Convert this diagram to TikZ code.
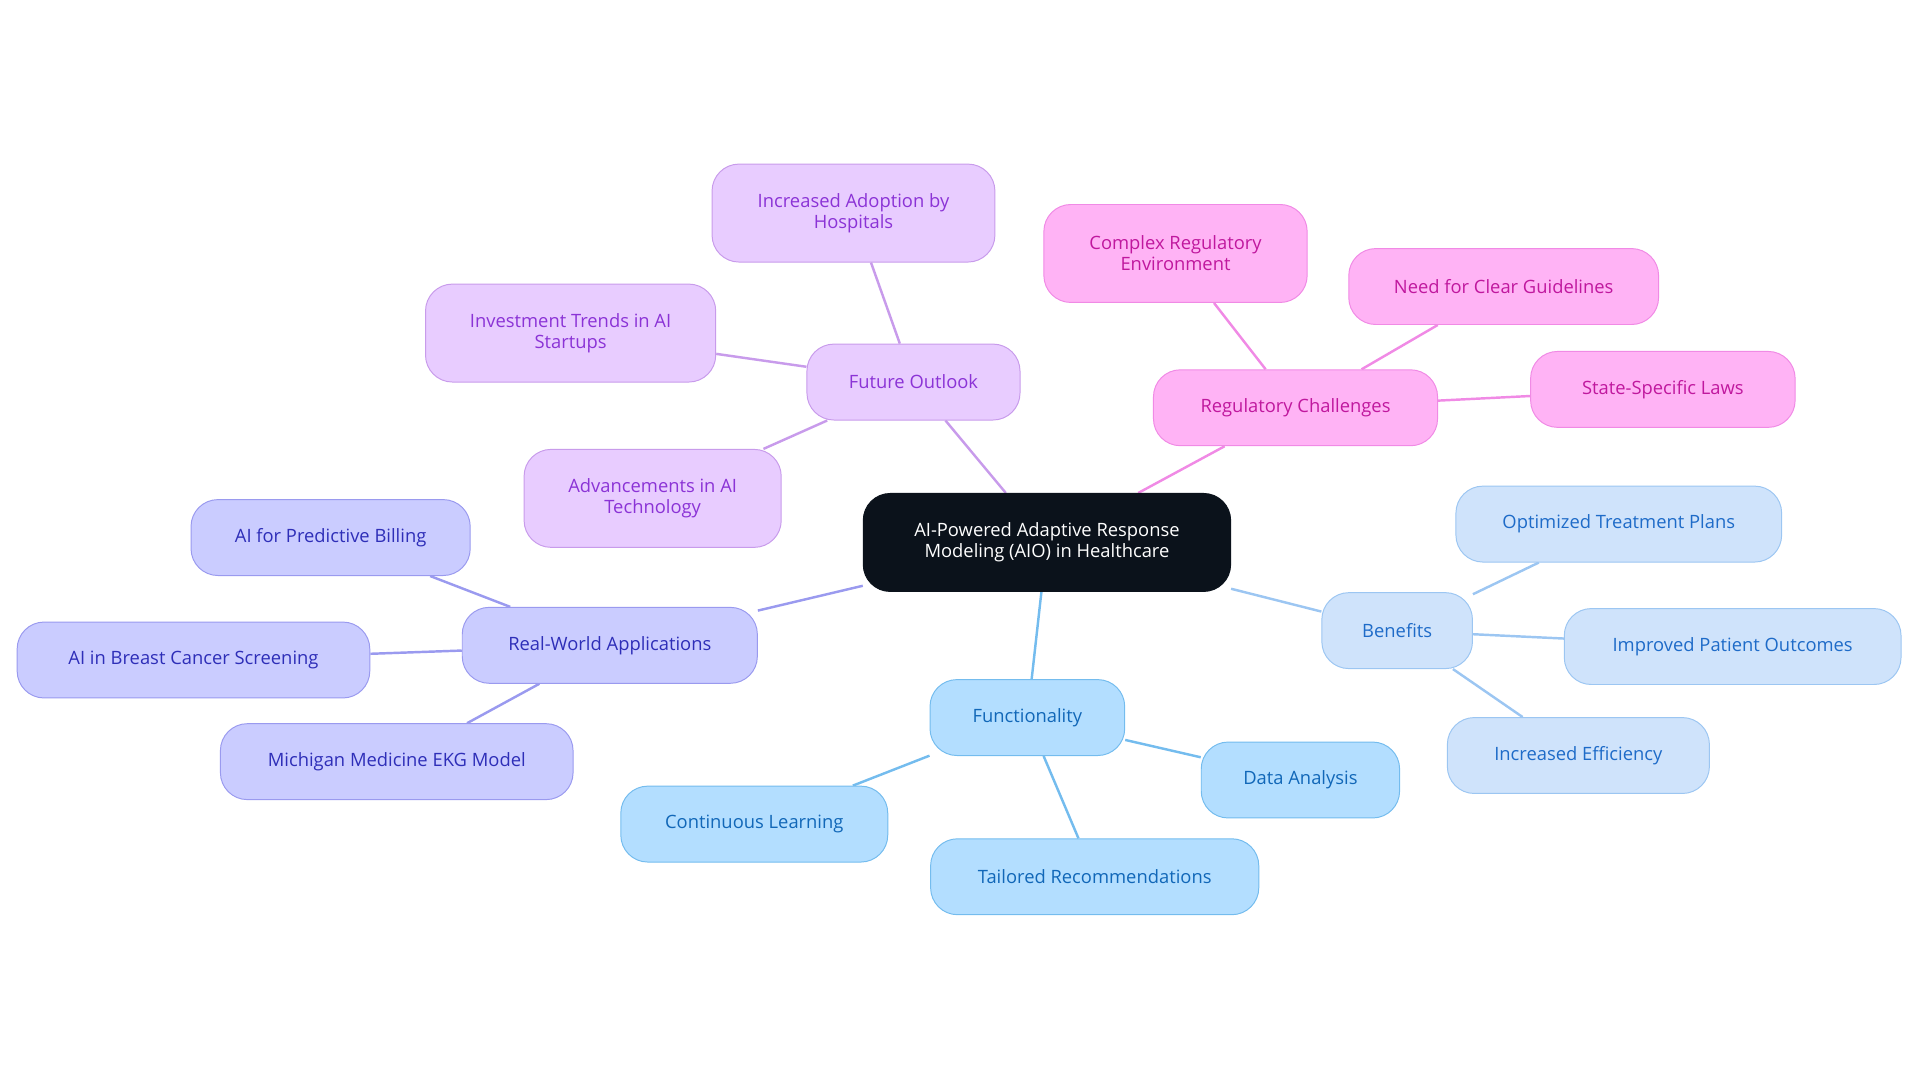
\documentclass[tikz,border=0pt]{standalone}
\usepackage{fontspec}
\setmainfont{Open Sans}
\usetikzlibrary{backgrounds}
\definecolor{cfill}{HTML}{0B121B}
\definecolor{pf}{HTML}{E8CCFF}\definecolor{pd}{HTML}{C89BEB}\definecolor{pt}{HTML}{8B33D6}
\definecolor{rf}{HTML}{FFB3F5}\definecolor{rd}{HTML}{F08AE5}\definecolor{rt}{HTML}{C0189E}
\definecolor{bf}{HTML}{CFE3FB}\definecolor{bd}{HTML}{9CC6F2}\definecolor{bt}{HTML}{1E6BC8}
\definecolor{ff}{HTML}{B3DEFF}\definecolor{fd}{HTML}{74BCEE}\definecolor{ft}{HTML}{1167B8}
\definecolor{af}{HTML}{CACCFF}\definecolor{ad}{HTML}{9A9AEF}\definecolor{at}{HTML}{2E2EB8}
\tikzset{
 box/.style={rounded corners=22pt,draw,line width=0.8pt,align=center,font=\fontsize{15}{17}\selectfont,inner sep=0pt},
 pbox/.style={box,fill=pf,draw=pd,text=pt},
 rbox/.style={box,fill=rf,draw=rd,text=rt},
 bbox/.style={box,fill=bf,draw=bd,text=bt},
 fbox/.style={box,fill=ff,draw=fd,text=ft},
 abox/.style={box,fill=af,draw=ad,text=at},
 ln/.style={line width=2pt},
}
\newcommand{\nd}[6]{\node[#1,minimum width=#4pt,minimum height=#5pt] (#2) at (#3) {#6};}
\begin{document}
\begin{tikzpicture}[x=1pt,y=-1pt]
\useasboundingbox (0,0) rectangle (1568,884.6);
\nd{box,fill=cfill,draw=cfill,text=white}{c}{855,443}{300}{80}{AI-Powered Adaptive Response\\Modeling (AIO) in Healthcare}
\nd{pbox}{fo}{746,312}{174}{62}{Future Outlook}
\nd{pbox}{p1}{697,174}{231}{80}{Increased Adoption by\\Hospitals}
\nd{pbox}{p2}{466,272}{237}{80}{Investment Trends in AI\\Startups}
\nd{pbox}{p3}{533,407}{210}{80}{Advancements in AI\\Technology}
\nd{rbox}{rc}{1058,333}{232}{62}{Regulatory Challenges}
\nd{rbox}{r1}{960,207}{215}{80}{Complex Regulatory\\Environment}
\nd{rbox}{r2}{1228,234}{253}{62}{Need for Clear Guidelines}
\nd{rbox}{r3}{1358,318}{216}{62}{State-Specific Laws}
\nd{bbox}{be}{1141,515}{123}{62}{Benefits}
\nd{bbox}{b1}{1322,428}{266}{62}{Optimized Treatment Plans}
\nd{bbox}{b2}{1415,528}{275}{62}{Improved Patient Outcomes}
\nd{bbox}{b3}{1289,617}{214}{62}{Increased Efficiency}
\nd{fbox}{fu}{839,586}{159}{62}{Functionality}
\nd{fbox}{f1}{1062,637}{162}{62}{Data Analysis}
\nd{fbox}{f2}{616,673}{218}{62}{Continuous Learning}
\nd{fbox}{f3}{894,716}{268}{62}{Tailored Recommendations}
\nd{abox}{ra}{498,527}{241}{62}{Real-World Applications}
\nd{abox}{a1}{270,439}{228}{62}{AI for Predictive Billing}
\nd{abox}{a2}{158,539}{288}{62}{AI in Breast Cancer Screening}
\nd{abox}{a3}{324,622}{288}{62}{Michigan Medicine EKG Model}
\begin{scope}[on background layer]
\draw[ln,pd] (c)--(fo) (fo)--(p1) (fo)--(p2) (fo)--(p3);
\draw[ln,rd] (c)--(rc) (rc)--(r1) (rc)--(r2) (rc)--(r3);
\draw[ln,bd] (c)--(be) (be)--(b1) (be)--(b2) (be)--(b3);
\draw[ln,fd] (c)--(fu) (fu)--(f1) (fu)--(f2) (fu)--(f3);
\draw[ln,ad] (c)--(ra) (ra)--(a1) (ra)--(a2) (ra)--(a3);
\end{scope}
\end{tikzpicture}
\end{document}
